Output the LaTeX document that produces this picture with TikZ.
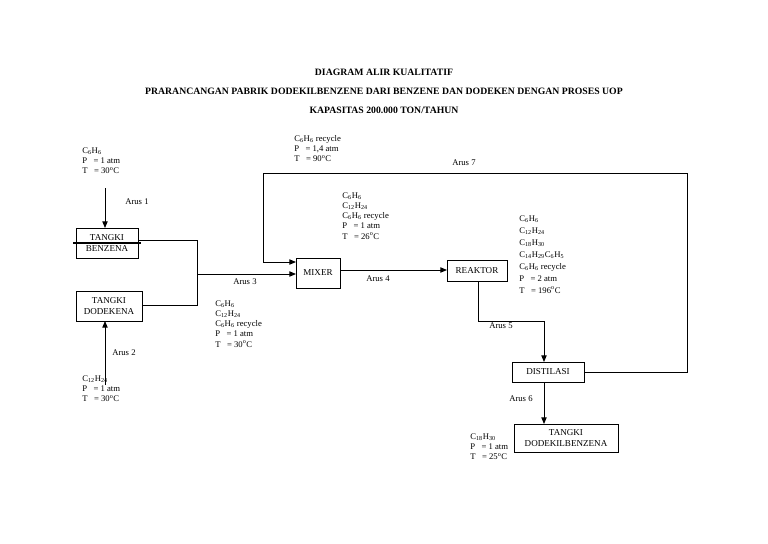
\documentclass[tikz,border=0pt]{standalone}
\usepackage{fontspec}
\setmainfont{Liberation Serif}
\usetikzlibrary{arrows.meta}
\newcommand{\sbs}[1]{\textsubscript{#1}}
\begin{document}
\begin{tikzpicture}[x=0.75pt,y=-0.75pt,
  box/.style={draw,line width=0.8pt,inner sep=0pt,align=center,font=\fontsize{6.8}{8.5}\selectfont},
  lbl/.style={font=\fontsize{6.5}{7.7}\selectfont,inner sep=0pt,align=left,anchor=north west},
  ttl/.style={font=\bfseries\fontsize{7.3}{9}\selectfont,inner sep=0pt},
  ln/.style={line width=0.7pt},
  arr/.style={line width=0.7pt,-{Triangle[length=5pt,width=4pt]}}]
\useasboundingbox (0,0) rectangle (768,543);
\node[ttl] (t1) at (384,72) {DIAGRAM ALIR KUALITATIF};
\node[ttl] (t2) at (384,91) {PRARANCANGAN PABRIK DODEKILBENZENE DARI BENZENE DAN DODEKEN DENGAN PROSES UOP};
\node[ttl] (t3) at (384,110) {KAPASITAS 200.000 TON/TAHUN};

\node[box,minimum width=62\pgflinewidth] (tb) at (107,243) {}; 
\draw[ln] (76,228) rectangle (138,258);
\node[box,draw=none] (tbx) at (107,243) {TANGKI\\BENZENA};
\coordinate (tbE) at (138,240); \coordinate (tbN) at (105,228);
\draw[ln] (76,291) rectangle (142,321);
\node[box,draw=none] (tdx) at (109,306) {TANGKI\\DODEKENA};
\coordinate (tdE) at (142,305); \coordinate (tdS) at (105,321);
\draw[ln] (296,258) rectangle (340,288);
\node[box,draw=none] (mx) at (318,273) {MIXER};
\draw[ln] (447,260) rectangle (507,281);
\node[box,draw=none] (rk) at (477,270.5) {REAKTOR};
\draw[ln] (512,362) rectangle (584,382);
\node[box,draw=none] (ds) at (548,372) {DISTILASI};
\draw[ln] (514,424) rectangle (618,452);
\node[box,draw=none] (tp) at (566,438) {TANGKI\\DODEKILBENZENA};

\coordinate (a1) at (105,188); \coordinate (a2) at (105,385);
\coordinate (j) at (197,274);
\draw[arr] (a1) -- (tbN);
\draw[arr] (a2) -- (tdS);
\draw[ln] (tbE) -- (197,240) -- (197,305) -- (tdE);
\draw[arr] (j) -- (296,274);
\draw[arr] (340,270) -- (447,270);
\draw[arr] (478,281) -- (478,321) -- (544,321) -- (544,362);
\draw[arr] (544,382) -- (544,424);
\draw[arr] (584,372) -- (687,372) -- (687,173) -- (263,173) -- (263,262) -- (296,262);

\node[lbl] (l1) at (125,199) {Arus 1};
\node[lbl] (l2) at (112,349) {Arus 2};
\node[lbl] (l3) at (233,278) {Arus 3};
\node[lbl] (l4) at (366,276) {Arus 4};
\node[lbl] (l5) at (489,323) {Arus 5};
\node[lbl] (l6) at (509,395) {Arus 6};
\node[lbl] (l7) at (452,160) {Arus 7};

\node[lbl] (s1) at (82,147) {C\sbs{6}H\sbs{6}\\P\ \ \ = 1 atm\\T\ \ \ = 30\textsuperscript{o}C};
\node[lbl] (s7) at (294,135) {C\sbs{6}H\sbs{6} recycle\\P\ \ \ = 1,4 atm\\T\ \ \ = 90\textsuperscript{o}C};
\node[lbl,font=\fontsize{6.5}{7.7}\selectfont] (s4) at (342,192) {C\sbs{6}H\sbs{6}\\C\sbs{12}H\sbs{24}\\C\sbs{6}H\sbs{6} recycle\\P\ \ \ = 1 atm\\T\ \ \ = 26\textsuperscript{o}C};
\node[lbl] (s3) at (215,300) {C\sbs{6}H\sbs{6}\\C\sbs{12}H\sbs{24}\\C\sbs{6}H\sbs{6} recycle\\P\ \ \ = 1 atm\\T\ \ \ = 30\textsuperscript{o}C};
\node[lbl] (s2) at (82,375) {C\sbs{12}H\sbs{24}\\P\ \ \ = 1 atm\\T\ \ \ = 30\textsuperscript{o}C};
\node[lbl,font=\fontsize{6.5}{9}\selectfont] (s5) at (519,215) {C\sbs{6}H\sbs{6}\\C\sbs{12}H\sbs{24}\\C\sbs{18}H\sbs{30}\\C\sbs{14}H\sbs{29}C\sbs{6}H\sbs{5}\\C\sbs{6}H\sbs{6} recycle\\P\ \ \ = 2 atm\\T\ \ \ = 196\textsuperscript{o}C};
\node[lbl] (s6) at (470,433) {C\sbs{18}H\sbs{30}\\P\ \ \ = 1 atm\\T\ \ \ = 25\textsuperscript{o}C};
\end{tikzpicture}
\end{document}
